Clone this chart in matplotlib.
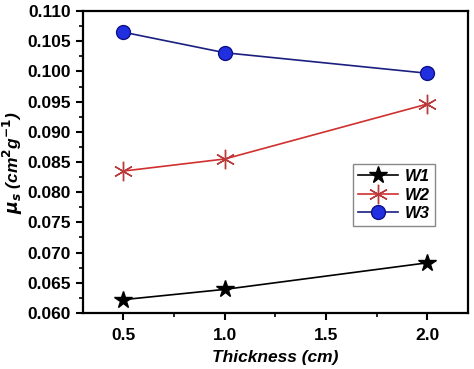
import matplotlib.pyplot as plt
from matplotlib.ticker import MultipleLocator

plt.rcParams['font.family'] = ['Liberation Sans', 'DejaVu Sans']
plt.rcParams['font.weight'] = 'bold'
plt.rcParams['mathtext.default'] = 'it'

thickness = [0.5, 1.0, 2.0]
w1 = [0.0622, 0.0639, 0.0683]
w2 = [0.0835, 0.0855, 0.0946]
w3 = [0.1065, 0.1031, 0.0997]

fig = plt.figure(figsize=(4.74, 3.69), dpi=100)
ax = fig.add_axes([0.175, 0.152, 0.812, 0.818])

ax.plot(thickness, w1, '-', color='black', lw=1.2, marker='*', ms=13,
        mfc='black', mec='black', label='W1')
ax.plot(thickness, w2, '-', color='#d03030', lw=1.2, marker=(6, 2, 0), ms=14,
        mec='#b83a3a', mew=1.0, label='W2')
ax.plot(thickness, w3, '-', color='#1a1f80', lw=1.2, marker='o', ms=10,
        mfc='#2030e0', mec='#10108a', label='W3')

ax.set_xlim(0.3, 2.2)
ax.set_ylim(0.060, 0.110)
ax.xaxis.set_major_locator(MultipleLocator(0.5))
ax.xaxis.set_minor_locator(MultipleLocator(0.25))
ax.yaxis.set_major_locator(MultipleLocator(0.005))
ax.yaxis.set_minor_locator(MultipleLocator(0.0025))
ax.yaxis.set_major_formatter(plt.FormatStrFormatter('%.3f'))

for s in ax.spines.values():
    s.set_linewidth(1.6)
ax.tick_params(which='major', direction='out', length=5, width=1.5, labelsize=12.5)
ax.tick_params(axis='x', which='major', pad=6)
ax.tick_params(which='minor', direction='out', length=3, width=1.2)

ax.set_xlabel('Thickness (cm)', fontsize=12.5, style='italic', fontweight='bold', labelpad=5)
ax.set_ylabel(r'$\mu_s$ (cm$^2$g$^{-1}$)', fontsize=12.5, style='italic', fontweight='bold',
              labelpad=2)

leg = ax.legend(loc='upper left', bbox_to_anchor=(0.68, 0.52), fancybox=False,
                edgecolor='#888888', framealpha=1, borderpad=0.3, labelspacing=0.2,
                handlelength=2.4, handletextpad=0.4,
                prop={'style': 'italic', 'weight': 'bold', 'size': 12})
leg.get_frame().set_linewidth(1.0)

fig.savefig('out.png', dpi=100)
